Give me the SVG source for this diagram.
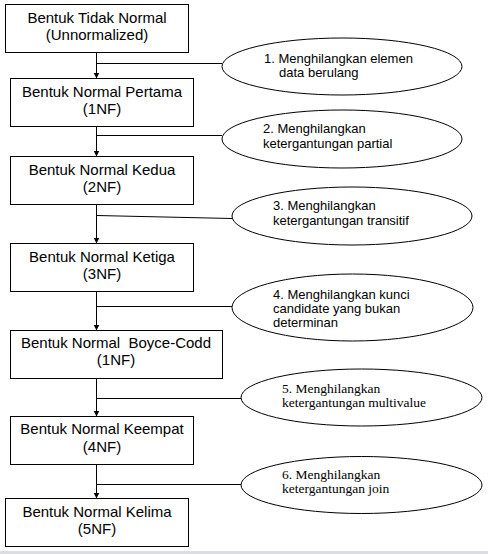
<svg xmlns="http://www.w3.org/2000/svg" width="488" height="554" viewBox="0 0 488 554">
<style>
.box{fill:#fff;stroke:#000;stroke-width:1}
.ell{fill:#fff;stroke:#000;stroke-width:1}
.bt{font-family:"Liberation Sans",Arial,sans-serif;font-size:15px;fill:#000;text-anchor:middle}
.et{font-family:"Liberation Sans",Arial,sans-serif;font-size:13px;fill:#000}
.es{font-family:"Liberation Serif","Times New Roman",serif;font-size:13.5px;fill:#000}
.ln{stroke:#000;stroke-width:1;fill:none}
</style>
<defs>
<marker id="arr" markerWidth="6" markerHeight="7" refX="5.5" refY="3.5" orient="auto" markerUnits="userSpaceOnUse">
<path d="M0,0.5 L6,3.5 L0,6.5 Z" fill="#000"/>
</marker>
</defs>
<rect width="488" height="554" fill="#fff"/>
<rect x="0" y="551" width="488" height="3" fill="#d9dee6"/>
<g id="connectors">
<line class="ln" x1="96.5" y1="53" x2="96.5" y2="78" marker-end="url(#arr)"/>
<line class="ln" x1="96.5" y1="63.5" x2="222" y2="63.5"/>
<line class="ln" x1="96.5" y1="126" x2="96.5" y2="156" marker-end="url(#arr)"/>
<line class="ln" x1="96.5" y1="135.5" x2="222" y2="135.5"/>
<line class="ln" x1="96.5" y1="205" x2="96.5" y2="243" marker-end="url(#arr)"/>
<line class="ln" x1="96.5" y1="215.5" x2="232" y2="218.5"/>
<line class="ln" x1="96.5" y1="291" x2="96.5" y2="330" marker-end="url(#arr)"/>
<line class="ln" x1="96.5" y1="306.5" x2="232" y2="306.5"/>
<line class="ln" x1="96.5" y1="378" x2="96.5" y2="416" marker-end="url(#arr)"/>
<line class="ln" x1="96.5" y1="398.5" x2="241" y2="398.5"/>
<line class="ln" x1="96.5" y1="464" x2="96.5" y2="498" marker-end="url(#arr)"/>
<line class="ln" x1="96.5" y1="484.5" x2="241" y2="484.5"/>
</g>
<g id="unnormalized">
<rect class="box" x="5.5" y="4.5" width="183" height="48"/>
<text class="bt" x="97" y="23">Bentuk Tidak Normal</text>
<text class="bt" x="97" y="40">(Unnormalized)</text>
</g>
<g id="nf1">
<rect class="box" x="10.5" y="78.5" width="183" height="48"/>
<text class="bt" x="102" y="97">Bentuk Normal Pertama</text>
<text class="bt" x="102" y="114">(1NF)</text>
</g>
<g id="nf2">
<rect class="box" x="10.5" y="156.5" width="183" height="48"/>
<text class="bt" x="102" y="175">Bentuk Normal Kedua</text>
<text class="bt" x="102" y="192">(2NF)</text>
</g>
<g id="nf3">
<rect class="box" x="10.5" y="243.5" width="183" height="48"/>
<text class="bt" x="102" y="262">Bentuk Normal Ketiga</text>
<text class="bt" x="102" y="279">(3NF)</text>
</g>
<g id="bcnf">
<rect class="box" x="10.5" y="330.5" width="212" height="48"/>
<text class="bt" x="116" y="348" xml:space="preserve">Bentuk Normal  Boyce-Codd</text>
<text class="bt" x="116" y="365">(1NF)</text>
</g>
<g id="nf4">
<rect class="box" x="10.5" y="416.5" width="183" height="48"/>
<text class="bt" x="102" y="434">Bentuk Normal Keempat</text>
<text class="bt" x="102" y="452">(4NF)</text>
</g>
<g id="nf5">
<rect class="box" x="5.5" y="498.5" width="183" height="48"/>
<text class="bt" x="97" y="517">Bentuk Normal Kelima</text>
<text class="bt" x="97" y="534">(5NF)</text>
</g>
<g id="step1">
<ellipse class="ell" cx="342" cy="66.5" rx="120" ry="28.5"/>
<text class="et" x="264" y="63">1. Menghilangkan elemen</text>
<text class="et" x="279" y="77">data berulang</text>
</g>
<g id="step2">
<ellipse class="ell" cx="342" cy="139" rx="120" ry="29"/>
<text class="et" x="263" y="133">2. Menghilangkan</text>
<text class="et" x="263" y="148">ketergantungan partial</text>
</g>
<g id="step3">
<ellipse class="ell" cx="352" cy="216" rx="120" ry="29"/>
<text class="et" x="273" y="210">3. Menghilangkan</text>
<text class="et" x="273" y="225">ketergantungan transitif</text>
</g>
<g id="step4">
<ellipse class="ell" cx="352.5" cy="307.5" rx="120.5" ry="33.5"/>
<text class="et" x="273" y="299">4. Menghilangkan kunci</text>
<text class="et" x="273" y="313">candidate yang bukan</text>
<text class="et" x="273" y="327">determinan</text>
</g>
<g id="step5">
<ellipse class="ell" cx="361.5" cy="397.5" rx="120.5" ry="28.5"/>
<text class="es" x="282" y="393">5. Menghilangkan</text>
<text class="es" x="282" y="407">ketergantungan multivalue</text>
</g>
<g id="step6">
<ellipse class="ell" cx="361.5" cy="485" rx="120.5" ry="28.5"/>
<text class="es" x="282" y="479">6. Menghilangkan</text>
<text class="es" x="282" y="493">ketergantungan join</text>
</g>
</svg>
